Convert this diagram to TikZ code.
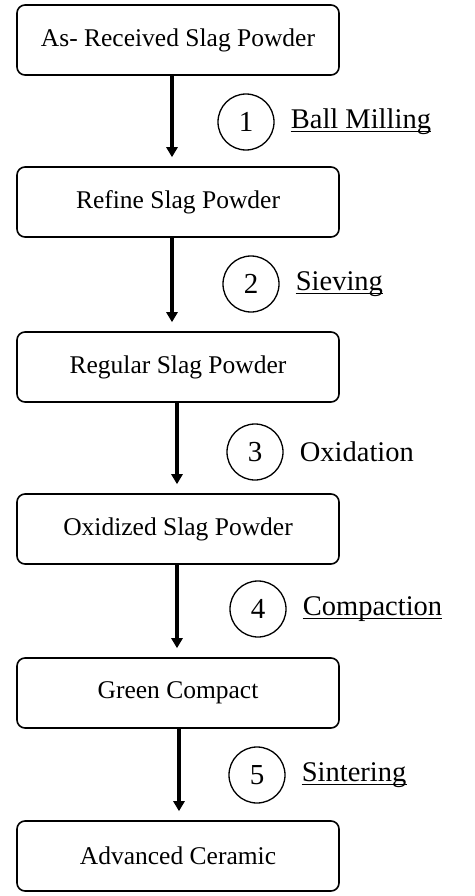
\documentclass[tikz,border=0pt]{standalone}
\usepackage{fontspec}
\setmainfont{Liberation Serif}
\usetikzlibrary{arrows.meta,positioning}

\begin{document}
\begin{tikzpicture}[x=1pt,y=-1pt,
    stage/.style={draw, rounded corners=8pt, line width=1.6pt, minimum width=322pt,
        minimum height=70pt, font=\fontsize{25.5}{28}\selectfont},
    stepnum/.style={draw, circle, line width=1.3pt, minimum size=56pt, inner sep=0pt,
        font=\fontsize{29}{30}\selectfont},
    steplabel/.style={right=16pt of #1, inner sep=0pt, font=\fontsize{28.5}{30}\selectfont},
    underbar/.style={line width=1.1pt},
    flow/.style={-{Triangle[width=11pt,length=10pt]}, line width=3.2pt, shorten >=9pt}]
    \useasboundingbox (0,0) rectangle (474,896);

    % process stages
    \node[stage] (received) at (178,40)  {As- Received Slag Powder};
    \node[stage] (refine)   at (178,202) {Refine Slag Powder};
    \node[stage] (regular)  at (178,367) {Regular Slag Powder};
    \node[stage] (oxidized) at (178,529) {Oxidized Slag Powder};
    \node[stage] (green)    at (178,693) {Green Compact};
    \node[stage] (ceramic)  at (178,856) {Advanced Ceramic};

    % flow arrows
    \draw[flow] ([xshift=-6pt]received.south) -- ([xshift=-6pt]refine.north);
    \draw[flow] ([xshift=-6pt]refine.south) -- ([xshift=-6pt]regular.north);
    \draw[flow] ([xshift=-1pt]regular.south) -- ([xshift=-1pt]oxidized.north);
    \draw[flow] ([xshift=-1pt]oxidized.south) -- ([xshift=-1pt]green.north);
    \draw[flow] ([xshift=1pt]green.south) -- ([xshift=1pt]ceramic.north);

    % numbered steps
    \node[stepnum] (c1) at (246,122) {1};
    \node[stepnum] (c2) at (251,284) {2};
    \node[stepnum] (c3) at (255,452) {3};
    \node[stepnum] (c4) at (258,609) {4};
    \node[stepnum] (c5) at (257,775) {5};

    \node[steplabel=c1] (l1) {Ball Milling};
    \node[steplabel=c2] (l2) {Sieving};
    \node[steplabel=c3] (l3) {Oxidation};
    \node[steplabel=c4] (l4) {Compaction};
    \node[steplabel=c5] (l5) {Sintering};

    % underlines (step 3 has none)
    \draw[underbar] ([yshift=-3pt]l1.base west) -- ([yshift=-3pt]l1.base east);
    \draw[underbar] ([yshift=-3pt]l2.base west) -- ([yshift=-3pt]l2.base east);
    \draw[underbar] ([yshift=-3pt]l4.base west) -- ([yshift=-3pt]l4.base east);
    \draw[underbar] ([yshift=-3pt]l5.base west) -- ([yshift=-3pt]l5.base east);
\end{tikzpicture}
\end{document}
